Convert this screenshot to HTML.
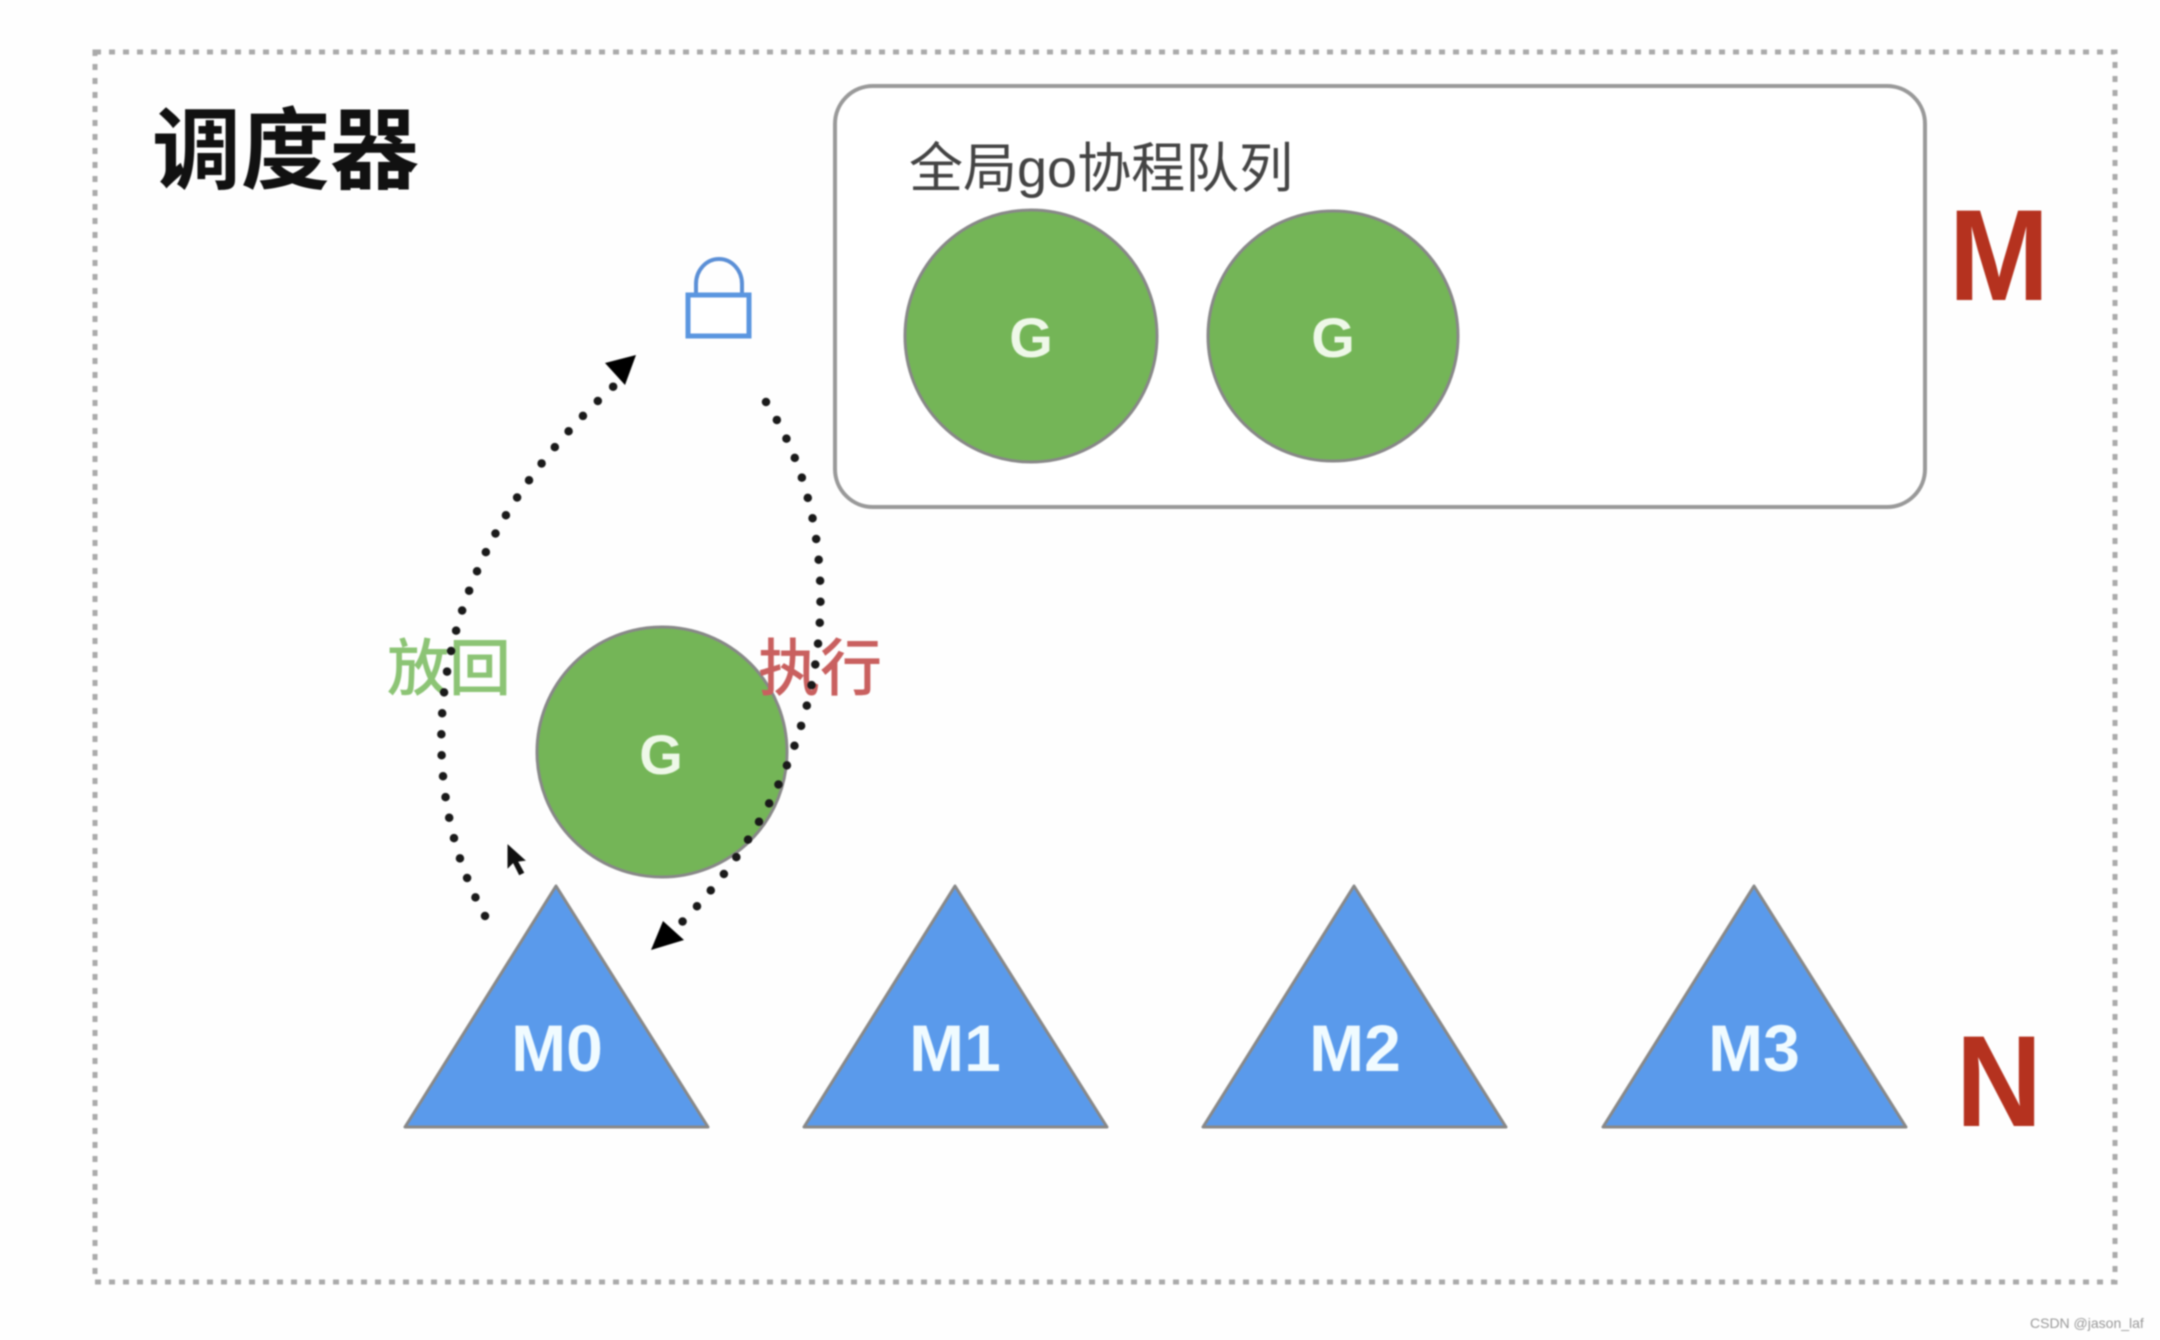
<!DOCTYPE html>
<html lang="zh">
<head>
<meta charset="utf-8">
<style>
html,body{margin:0;padding:0;background:#fefefe;width:2160px;height:1340px;overflow:hidden}
svg{display:block;filter:blur(.9px)}
.l{font-family:"Liberation Sans",sans-serif;font-weight:700}
.c{font-family:"Liberation Sans","Noto Sans CJK SC",sans-serif}
</style>
</head>
<body>
<svg width="2160" height="1340" viewBox="0 0 2160 1340" xmlns="http://www.w3.org/2000/svg">
<rect width="2160" height="1340" fill="#fefefe"/>
<rect x="95" y="52" width="2020" height="1230" fill="none" stroke="#aaa" stroke-width="5" stroke-dasharray="6 8"/>
<rect x="835" y="86" width="1090" height="421" rx="38" fill="#fff" stroke="#999" stroke-width="4"/>
<text x="152" y="182" class="c" font-size="89" font-weight="700" fill="#111">调度器</text>
<text x="909" y="187" class="c" font-size="54" fill="#444">全局go协程队列</text>
<circle cx="1031" cy="336" r="126" fill="#74b557" stroke="#888" stroke-width="3"/>
<circle cx="1333" cy="336" r="125" fill="#74b557" stroke="#888" stroke-width="3"/>
<circle cx="662" cy="752" r="125" fill="#74b557" stroke="#888" stroke-width="3"/>
<g class="l" font-size="56" fill="#eef8e8" text-anchor="middle">
<text x="1031" y="357">G</text>
<text x="1333" y="357">G</text>
<text x="661" y="774">G</text>
</g>
<g fill="#5a9aeb" stroke="#888" stroke-width="3" stroke-linejoin="round">
<polygon points="556,886 405,1127 708,1127"/>
<polygon points="955,886 804,1127 1107,1127"/>
<polygon points="1354,886 1203,1127 1506,1127"/>
<polygon points="1754,886 1603,1127 1906,1127"/>
</g>
<g class="l" font-size="66" fill="#f0fbff" text-anchor="middle">
<text x="557" y="1071">M0</text>
<text x="955" y="1071">M1</text>
<text x="1355" y="1071">M2</text>
<text x="1754" y="1071">M3</text>
</g>
<g class="l" font-size="130" fill="#b5321f" text-anchor="middle">
<text transform="translate(1999,300) scale(.93,1)">M</text>
<text transform="translate(1999,1126) scale(.92,1)">N</text>
</g>
<text x="387" y="690" class="c" font-size="62" font-weight="500" fill="#8cc475">放回</text>
<text x="758" y="690" class="c" font-size="62" font-weight="500" fill="#c9605f">执行</text>
<path d="M696 295 V284 A23 25 0 0 1 742 284 V295" fill="none" stroke="#5b8fd6" stroke-width="4"/>
<rect x="688" y="295" width="61" height="41" fill="#fff" stroke="#5b96e0" stroke-width="5"/>
<g fill="none" stroke="#1a1a1a" stroke-width="8.5" stroke-linecap="round" stroke-dasharray="0 21">
<path d="M485 916 C415 790 410 570 615 385"/>
<path d="M766 402 C850 530 850 760 672 932"/>
</g>
<polygon points="636,355 605,363 625,385" fill="#000"/>
<polygon points="651,950 663,921 684,940" fill="#000"/>
<polygon points="507,843 507,870 513,864 519,876 525,873 519,862 527,861" fill="#111" stroke="#fff" stroke-width="1"/>
<text x="2030" y="1328" font-family="Liberation Sans,sans-serif" font-size="14" fill="#999">CSDN @jason_laf</text>
</svg>
</body>
</html>
